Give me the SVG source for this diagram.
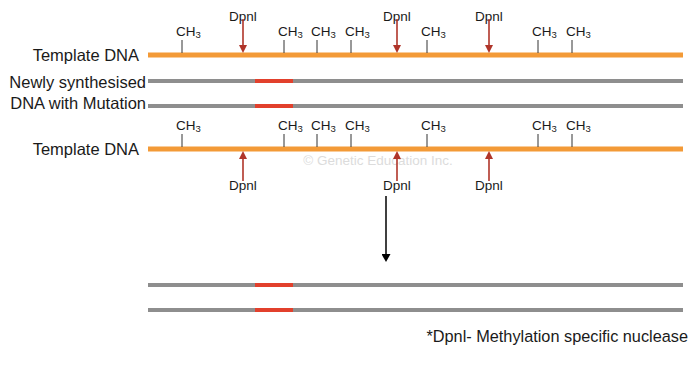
<svg xmlns="http://www.w3.org/2000/svg" width="700" height="384" viewBox="0 0 700 384">
<defs>
<style>
text{font-family:"Liberation Sans",Arial,sans-serif;fill:#1a1a1a}
.lbl{font-size:16.5px;text-anchor:end}
.ch{font-size:13.5px}
.sub{font-size:9.5px}
.dp{font-size:13.5px;text-anchor:middle}
.tmpl{stroke:#F39A37;stroke-width:5}
.gr{stroke:#8E8E8E;stroke-width:4}
.mut{stroke:#E2402C;stroke-width:4}
.tick{stroke:#333;stroke-width:1}
.enz{stroke:#B0352A;stroke-width:1.6}
</style>
<marker id="ah" markerWidth="8" markerHeight="8" refX="4" refY="4" orient="auto" markerUnits="userSpaceOnUse" viewBox="0 0 8 8"><path d="M0,0 L8,4 L0,8 Z" fill="#B0352A"/></marker>
<marker id="ahk" markerWidth="8" markerHeight="9" refX="4" refY="4.5" orient="auto" markerUnits="userSpaceOnUse" viewBox="0 0 8 9"><path d="M0,0 L8,4.5 L0,9 Z" fill="#000"/></marker>
</defs>
<rect width="700" height="384" fill="#fff"/>
<text x="378" y="165" style="font-size:13.5px;fill:#dcdcdc;text-anchor:middle">© Genetic Education Inc.</text>

<g id="labels">
<text class="lbl" x="139" y="61">Template DNA</text>
<text class="lbl" x="146" y="88">Newly synthesised</text>
<text class="lbl" x="146" y="109">DNA with Mutation</text>
<text class="lbl" x="139" y="155">Template DNA</text>
</g>

<g id="template1">
<line class="tmpl" x1="148" y1="55" x2="683" y2="55"/>
<line class="tick" x1="182" y1="40" x2="182" y2="53"/>
<line class="tick" x1="284" y1="40" x2="284" y2="53"/>
<line class="tick" x1="317" y1="40" x2="317" y2="53"/>
<line class="tick" x1="351" y1="40" x2="351" y2="53"/>
<line class="tick" x1="427" y1="40" x2="427" y2="53"/>
<line class="tick" x1="538" y1="40" x2="538" y2="53"/>
<line class="tick" x1="572" y1="40" x2="572" y2="53"/>
<text class="ch" x="176" y="36">CH<tspan class="sub" dy="2">3</tspan></text>
<text class="ch" x="278" y="36">CH<tspan class="sub" dy="2">3</tspan></text>
<text class="ch" x="311" y="36">CH<tspan class="sub" dy="2">3</tspan></text>
<text class="ch" x="345" y="36">CH<tspan class="sub" dy="2">3</tspan></text>
<text class="ch" x="421" y="36">CH<tspan class="sub" dy="2">3</tspan></text>
<text class="ch" x="532" y="36">CH<tspan class="sub" dy="2">3</tspan></text>
<text class="ch" x="566" y="36">CH<tspan class="sub" dy="2">3</tspan></text>
</g>

<g id="new1">
<line class="gr" x1="148" y1="81" x2="683" y2="81"/>
<line class="mut" x1="255" y1="81" x2="293" y2="81"/>
</g>
<g id="new2">
<line class="gr" x1="148" y1="106" x2="683" y2="106"/>
<line class="mut" x1="255" y1="106" x2="293" y2="106"/>
</g>

<g id="template2">
<line class="tmpl" x1="148" y1="149" x2="683" y2="149"/>
<line class="tick" x1="182" y1="134" x2="182" y2="147"/>
<line class="tick" x1="284" y1="134" x2="284" y2="147"/>
<line class="tick" x1="317" y1="134" x2="317" y2="147"/>
<line class="tick" x1="351" y1="134" x2="351" y2="147"/>
<line class="tick" x1="427" y1="134" x2="427" y2="147"/>
<line class="tick" x1="538" y1="134" x2="538" y2="147"/>
<line class="tick" x1="572" y1="134" x2="572" y2="147"/>
<text class="ch" x="176" y="130">CH<tspan class="sub" dy="2">3</tspan></text>
<text class="ch" x="278" y="130">CH<tspan class="sub" dy="2">3</tspan></text>
<text class="ch" x="311" y="130">CH<tspan class="sub" dy="2">3</tspan></text>
<text class="ch" x="345" y="130">CH<tspan class="sub" dy="2">3</tspan></text>
<text class="ch" x="421" y="130">CH<tspan class="sub" dy="2">3</tspan></text>
<text class="ch" x="532" y="130">CH<tspan class="sub" dy="2">3</tspan></text>
<text class="ch" x="566" y="130">CH<tspan class="sub" dy="2">3</tspan></text>
</g>

<g id="result1">
<line class="gr" x1="148" y1="285" x2="683" y2="285"/>
<line class="mut" x1="255" y1="285" x2="293" y2="285"/>
</g>
<g id="result2">
<line class="gr" x1="148" y1="310" x2="683" y2="310"/>
<line class="mut" x1="255" y1="310" x2="293" y2="310"/>
</g>

<g id="dpni">
<text class="dp" x="243" y="21">Dpnl</text>
<text class="dp" x="397" y="21">Dpnl</text>
<text class="dp" x="489" y="21">Dpnl</text>
<text class="dp" x="243" y="190">Dpnl</text>
<text class="dp" x="397" y="190">Dpnl</text>
<text class="dp" x="489" y="190">Dpnl</text>
</g>

<g id="connectors">
<line class="enz" x1="243" y1="19" x2="243" y2="49" marker-end="url(#ah)"/>
<line class="enz" x1="397" y1="19" x2="397" y2="49" marker-end="url(#ah)"/>
<line class="enz" x1="489" y1="19" x2="489" y2="49" marker-end="url(#ah)"/>
<line class="enz" x1="243" y1="181" x2="243" y2="155" marker-end="url(#ah)"/>
<line class="enz" x1="397" y1="181" x2="397" y2="155" marker-end="url(#ah)"/>
<line class="enz" x1="489" y1="181" x2="489" y2="155" marker-end="url(#ah)"/>
<line x1="386" y1="196" x2="386" y2="258" stroke="#000" stroke-width="1.5" marker-end="url(#ahk)"/>
</g>

<text x="688" y="342" style="font-size:16.3px;text-anchor:end">*Dpnl- Methylation specific nuclease</text>
</svg>
